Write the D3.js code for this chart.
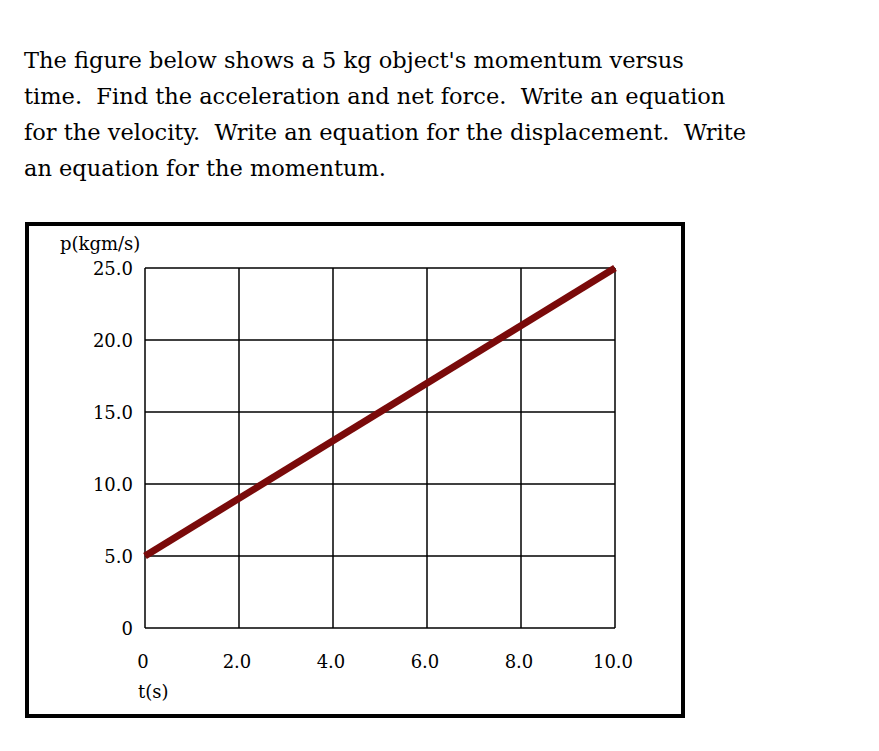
<!DOCTYPE html>
<html>
<head>
<meta charset="UTF-8">
<script src="https://d3js.org/d3.v7.min.js"></script>
<style>body{margin:0;background:#fff}</style>
</head>
<body>
<script>
// chart values
var timeValues = [0, 10];
var momentumValues = [5, 25];
var xTicks = [0, 2, 4, 6, 8, 10];
var yTicks = [0, 5, 10, 15, 20, 25];
var xTickLabels = ["0", "2.0", "4.0", "6.0", "8.0", "10.0"];
var yTickLabels = ["0", "5.0", "10.0", "15.0", "20.0", "25.0"];
var questionLines = [
    "The figure below shows a 5 kg object's momentum versus",
    "time.  Find the acceleration and net force.  Write an equation",
    "for the velocity.  Write an equation for the displacement.  Write",
    "an equation for the momentum."
];

var width = 879, height = 751;
var font = "'DejaVu Serif', 'Liberation Serif', serif";

var svg = d3.select("body").append("svg")
    .attr("width", width).attr("height", height);

svg.selectAll(".q").data(questionLines).enter().append("text")
    .attr("x", 24).attr("y", function(d, i) { return 68 + i * 36; })
    .attr("font-family", font).attr("font-size", 22.5)
    .attr("xml:space", "preserve")
    .text(function(d) { return d; });

// outer frame
svg.append("rect").attr("x", 27).attr("y", 224).attr("width", 656).attr("height", 492)
    .attr("fill", "none").attr("stroke", "#000").attr("stroke-width", 4);

var x = d3.scaleLinear().domain([0, 10]).range([145, 615]);
var y = d3.scaleLinear().domain([0, 25]).range([628, 268]);

// grid
svg.selectAll(".vg").data(xTicks).enter().append("line")
    .attr("x1", function(d) { return x(d); }).attr("x2", function(d) { return x(d); })
    .attr("y1", y(0)).attr("y2", y(25)).attr("stroke", "#000").attr("stroke-width", 1.5);
svg.selectAll(".hg").data(yTicks).enter().append("line")
    .attr("x1", x(0)).attr("x2", x(10))
    .attr("y1", function(d) { return y(d); }).attr("y2", function(d) { return y(d); })
    .attr("stroke", "#000").attr("stroke-width", 1.5);

// tick labels
svg.selectAll(".yl").data(yTicks).enter().append("text")
    .attr("x", 133).attr("y", function(d) { return y(d) + 7; })
    .attr("text-anchor", "end").attr("font-family", font).attr("font-size", 18)
    .text(function(d, i) { return yTickLabels[i]; });
svg.selectAll(".xl").data(xTicks).enter().append("text")
    .attr("x", function(d) { return x(d) - 2; }).attr("y", 668)
    .attr("text-anchor", "middle").attr("font-family", font).attr("font-size", 18)
    .text(function(d, i) { return xTickLabels[i]; });

svg.append("text").attr("x", 60).attr("y", 250).attr("font-family", font)
    .attr("font-size", 18).text("p(kgm/s)");
svg.append("text").attr("x", 138).attr("y", 698).attr("font-family", font)
    .attr("font-size", 18).text("t(s)");

// data line
var pts = timeValues.map(function(t, i) { return [t, momentumValues[i]]; });
svg.append("path").datum(pts)
    .attr("d", d3.line().x(function(d) { return x(d[0]); }).y(function(d) { return y(d[1]); }))
    .attr("stroke", "#7a0a0a").attr("stroke-width", 7).attr("fill", "none");
</script>
</body>
</html>
